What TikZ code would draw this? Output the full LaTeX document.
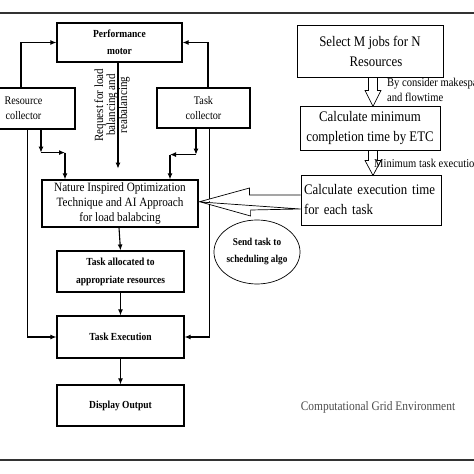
\documentclass[tikz,border=0pt]{standalone}
\usepackage{fontspec}
\setmainfont[FakeStretch=0.88]{Liberation Serif}
\usetikzlibrary{arrows.meta,shapes.geometric}

\begin{document}
\begin{tikzpicture}[x=1pt,y=1pt,
  lbox/.style={draw,line width=1.2pt,align=center,inner sep=0pt,font=\fontsize{11.6}{15}\selectfont},
  bbox/.style={lbox,font=\fontsize{10.8}{17}\selectfont\bfseries},
  rbox/.style={draw,line width=0.9pt,align=center,inner sep=0pt,font=\fontsize{14.6}{20}\selectfont},
  arr/.style={-{Latex[length=6pt,width=5pt]},line width=1.1pt},
  hollow/.style={draw,line width=0.7pt,fill=white},
  lbl/.style={font=\fontsize{12}{15}\selectfont,align=left,inner sep=0pt}]
  \useasboundingbox (0,0) rectangle (474,474);

  \draw[line width=2.5pt,black!80] (0,461) -- (474,461);
  \draw[line width=2.5pt,black!80] (0,14) -- (474,14);

  % left column
  \node[bbox,minimum width=125,minimum height=39] (perf) at (119.5,431.5) {Performance\\motor};
  \node[lbox,minimum width=103,minimum height=41] (rc) at (23.5,365.5) {Resource\\collector};
  \node[lbox,minimum width=93,minimum height=40] (tc) at (203.5,366) {Task\\collector};
  \node[lbox,minimum width=156,minimum height=47,font=\fontsize{12.7}{15}\selectfont] (nat) at (120,270.5)
    {Nature Inspired Optimization\\Technique and AI Approach\\for load balabcing};
  \node[bbox,minimum width=127,minimum height=41,font=\fontsize{10.8}{18}\selectfont\bfseries] (alloc) at (120.5,202.5)
    {Task allocated to\\appropriate resources};
  \node[bbox,minimum width=127,minimum height=42] (exe) at (120.5,137) {Task Execution};
  \node[bbox,minimum width=127,minimum height=41] (disp) at (120.5,68.5) {Display Output};

  \draw[arr] ([xshift=-2.5pt]rc.north) |- (perf.west);
  \draw[arr] ([xshift=4.5pt]tc.north) |- (perf.east);
  \draw[arr] ([xshift=-1.5pt]perf.south) -- ++(0,-106);
  \node[rotate=90,align=center,inner sep=0pt,font=\fontsize{12.5}{12}\selectfont] (req) at (112,369)
    {Request for load\\balancing and\\reabalancing};

  \draw[arr] ([xshift=17.5pt]rc.south) -- ++(0,-23) coordinate (rka);
  \draw[arr] (rka) -- ++(24,0) coordinate (rkb);
  \draw[arr] (rkb) -- (rkb |- nat.north);
  \draw[arr] ([xshift=-7.5pt]tc.south) -- ++(0,-26) coordinate (tka);
  \draw[arr] (tka) -- ++(-26,0) coordinate (tkb);
  \draw[arr] (tkb) -- (tkb |- nat.north);

  \draw[arr] ([xshift=4pt]rc.south) |- (exe.west);
  \draw[arr] ([xshift=6pt]tc.south) |- (exe.east);
  \draw[arr] ([xshift=-1pt]nat.south) -- (alloc.north);
  \draw[arr] (alloc) -- (exe);
  \draw[arr] (exe) -- (disp);

  % right column
  \node[rbox,minimum width=146,minimum height=52] (sel) at (370,423) {Select M jobs for N\\\hspace*{12pt}Resources};
  \node[rbox,minimum width=140,minimum height=44] (etc) at (370,346) {Calculate minimum\\completion time by ETC};
  \node[rbox,minimum width=140,minimum height=50,align=left,text width=134] (cet) at (371,274)
    {Calculate execution time\\for each task};
  \node[ellipse,draw,line width=0.7pt,minimum width=83,minimum height=64,inner sep=0pt,
    align=center,font=\fontsize{10.5}{17}\selectfont\bfseries] (send) at (257,222) {Send task to\\scheduling algo};

  \draw[hollow] ([xshift=-1.5pt]sel.south) -- ++(0,-13) -- ++(-3.5,0) -- ++(8,-16) -- ++(8,16)
    -- ++(-3.5,0) -- ++(0,13) -- cycle;
  \draw[hollow] ([xshift=-1.5pt]etc.south) -- ++(0,-10) -- ++(-3.5,0) -- ++(8,-15) -- ++(8,15)
    -- ++(-3.5,0) -- ++(0,10) -- cycle;
  \draw[hollow] ([yshift=5pt]cet.west) -- ++(-51,0) -- ++(0,7) -- (nat.east |- 0,272) ++(2,0)
    -- ++(50,-14) -- ++(0,6) -- ([yshift=-9pt]cet.west) -- cycle;

  \node[lbl,anchor=west] (mk) at (387,384) {By consider makespan\\and flowtime};
  \node[lbl,anchor=west] (mt) at (374,311) {Minimum task execution time};
  \node[font=\fontsize{13}{15}\selectfont,text=black!70] (env) at (378,67) {Computational Grid Environment};
\end{tikzpicture}
\end{document}
